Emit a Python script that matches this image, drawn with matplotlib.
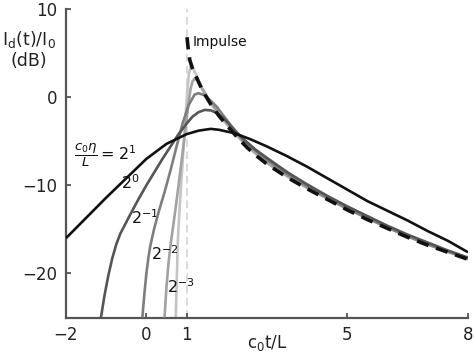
import matplotlib
matplotlib.use("Agg")
import matplotlib.pyplot as plt

plt.rcParams['font.family'] = ['DejaVu Sans']
plt.rcParams['mathtext.fontset'] = 'dejavusans'

# ---- data ----
x_impulse = [1.01, 1.04, 1.08, 1.15, 1.25, 1.4, 1.6, 1.8, 2.0, 2.25, 2.5, 2.75, 3.0, 3.5, 4.0, 4.5, 5.0, 5.5, 6.0, 6.5, 7.0, 7.5, 8.0]
y_impulse = [6.8, 5.5, 4.2, 3.2, 2.2, 0.7, -0.8, -2.1, -3.2, -4.5, -5.7, -6.7, -7.6, -9.1, -10.4, -11.6, -12.8, -13.9, -14.9, -15.9, -16.8, -17.6, -18.4]

x_eta2 = [-2.0, -1.5, -1.0, -0.5, 0.0, 0.5, 1.0, 1.3, 1.6, 1.8, 2.2, 2.6, 3.0, 3.5, 4.0, 4.5, 5.0, 5.5, 6.0, 6.5, 7.0, 7.5, 8.0]
y_eta2 = [-16.0, -13.7, -11.4, -9.2, -7.0, -5.3, -4.2, -3.8, -3.6, -3.7, -4.1, -4.8, -5.6, -6.7, -7.9, -9.2, -10.5, -11.8, -12.9, -14.0, -15.2, -16.3, -17.6]

x_eta1 = [-1.13, -1.05, -0.95, -0.85, -0.75, -0.65, -0.4, -0.2, 0.0, 0.2, 0.4, 0.6, 0.8, 1.0, 1.15, 1.3, 1.45, 1.6, 1.75, 1.9, 2.05, 2.2, 2.4, 2.7, 3.0, 3.5, 4.0, 4.5, 5.0, 5.5, 6.0, 6.5, 7.0, 7.5, 8.0]
y_eta1 = [-25.0, -22.7, -20.3, -18.3, -16.7, -15.5, -13.3, -11.6, -10.0, -8.5, -7.0, -5.6, -4.2, -3.0, -2.2, -1.7, -1.45, -1.5, -1.8, -2.3, -3.0, -3.8, -4.7, -5.9, -6.9, -8.5, -9.9, -11.2, -12.4, -13.5, -14.6, -15.6, -16.5, -17.4, -18.2]

x_etam1 = [-0.1, -0.05, 0.0, 0.05, 0.1, 0.2, 0.3, 0.45, 0.6, 0.75, 0.9, 1.05, 1.2, 1.3, 1.45, 1.6, 1.75, 1.9, 2.1, 2.4, 2.75, 3.0, 3.5, 4.0, 4.5, 5.0, 5.5, 6.0, 6.5, 7.0, 7.5, 8.0]
y_etam1 = [-25.0, -22.3, -20.0, -18.2, -16.8, -14.8, -13.1, -10.8, -8.3, -5.6, -3.0, -0.9, 0.3, 0.45, 0.2, -0.4, -1.1, -2.0, -3.2, -4.8, -6.2, -7.1, -8.7, -10.1, -11.4, -12.6, -13.7, -14.8, -15.8, -16.7, -17.5, -18.3]

x_etam2 = [0.45, 0.5, 0.55, 0.6, 0.7, 0.8, 0.9, 1.0, 1.06, 1.1, 1.15, 1.2, 1.27, 1.35, 1.45, 1.6, 1.8, 2.0, 2.5, 3.0, 3.5, 4.0, 5.0, 6.0, 7.0, 8.0]
y_etam2 = [-25.0, -21.5, -18.8, -16.8, -13.5, -10.0, -6.3, -2.5, -0.3, 1.0, 1.8, 2.1, 1.9, 1.3, 0.5, -0.6, -1.9, -3.0, -5.5, -7.4, -8.9, -10.3, -12.7, -14.8, -16.7, -18.35]

x_etam3 = [0.73, 0.76, 0.78, 0.82, 0.87, 0.92, 0.97, 1.02, 1.06, 1.1, 1.15, 1.22, 1.3, 1.4, 1.6, 1.8, 2.0, 2.5, 3.0, 3.5, 4.0, 5.0, 6.0, 7.0, 8.0]
y_etam3 = [-25.0, -20.0, -16.5, -13.0, -9.5, -6.0, -2.5, 0.8, 2.7, 3.5, 3.4, 2.7, 1.9, 0.8, -0.7, -2.0, -3.1, -5.6, -7.5, -9.0, -10.3, -12.7, -14.8, -16.7, -18.4]

x_ticks = [-2, 0, 1, 5, 8]
y_ticks = [-20, -10, 0, 10]

W, H = 474, 352
fig = plt.figure(figsize=(W / 100, H / 100), dpi=100)
ax = fig.add_axes([66 / W, (H - 317.5) / H, (468 - 66) / W, (317.5 - 9) / H])

ax.axvline(1, color='#d0d0d0', lw=1.1, dashes=(5, 3), zorder=1)

ax.plot(x_etam3, y_etam3, color='#c4c4c4', lw=1.9, zorder=2, solid_capstyle='butt')
ax.plot(x_etam2, y_etam2, color='#a2a2a2', lw=1.9, zorder=3, solid_capstyle='butt')
ax.plot(x_etam1, y_etam1, color='#7e7e7e', lw=1.9, zorder=4, solid_capstyle='butt')
ax.plot(x_eta1, y_eta1, color='#555555', lw=1.9, zorder=5, solid_capstyle='butt')
ax.plot(x_eta2, y_eta2, color='#111111', lw=1.9, zorder=6, solid_capstyle='butt')
ax.plot(x_impulse, y_impulse, color='#111111', lw=2.6, dashes=(3.4, 2.2), zorder=7)

ax.set_xlim(-2, 8)
ax.set_ylim(-25, 10)
ax.set_xticks(x_ticks)
ax.set_xticklabels([str(v).replace('-', '\u2212') for v in x_ticks])
ax.set_yticks(y_ticks)
ax.set_yticklabels([str(v).replace('-', '\u2212') for v in y_ticks])

for s in ['top', 'right']:
    ax.spines[s].set_visible(False)
for s in ['left', 'bottom']:
    ax.spines[s].set_color('#555555')
    ax.spines[s].set_linewidth(1.6)
ax.tick_params(direction='in', length=3.5, width=1.3, color='#555555',
               labelsize=12, labelcolor='#222222', pad=6)

ax.text(1.15, 6.3, 'Impulse', fontsize=10, ha='left', va='center', color='#111111')
ax.text(-1.8, -6.6, r'$\dfrac{c_0\eta}{L}$', fontsize=9.5, ha='left', va='center', color='#111111')
ax.text(-1.15, -6.4, r'= 2$^{1}$', fontsize=11.5, ha='left', va='center', color='#111111')
ax.text(-0.4, -9.7, r'2$^{0}$', fontsize=11.5, ha='center', va='center', color='#111111')
ax.text(-0.05, -13.7, r'2$^{-1}$', fontsize=11.5, ha='center', va='center', color='#111111')
ax.text(0.45, -17.8, r'2$^{-2}$', fontsize=11.5, ha='center', va='center', color='#111111')
ax.text(0.85, -21.5, r'2$^{-3}$', fontsize=11.5, ha='center', va='center', color='#111111')

fig.text(29 / W, 1 - 40 / H, r'I$_\mathregular{d}$(t)/I$_\mathregular{0}$', fontsize=12.5,
         ha='center', va='center', color='#222222')
fig.text(29 / W, 1 - 61 / H, '(dB)', fontsize=12.5, ha='center', va='center', color='#222222')
fig.text(267 / W, 1 - 343 / H, r'c$_\mathregular{0}$t/L', fontsize=12, ha='center', va='center', color='#222222')

fig.savefig('out.png', dpi=100)
